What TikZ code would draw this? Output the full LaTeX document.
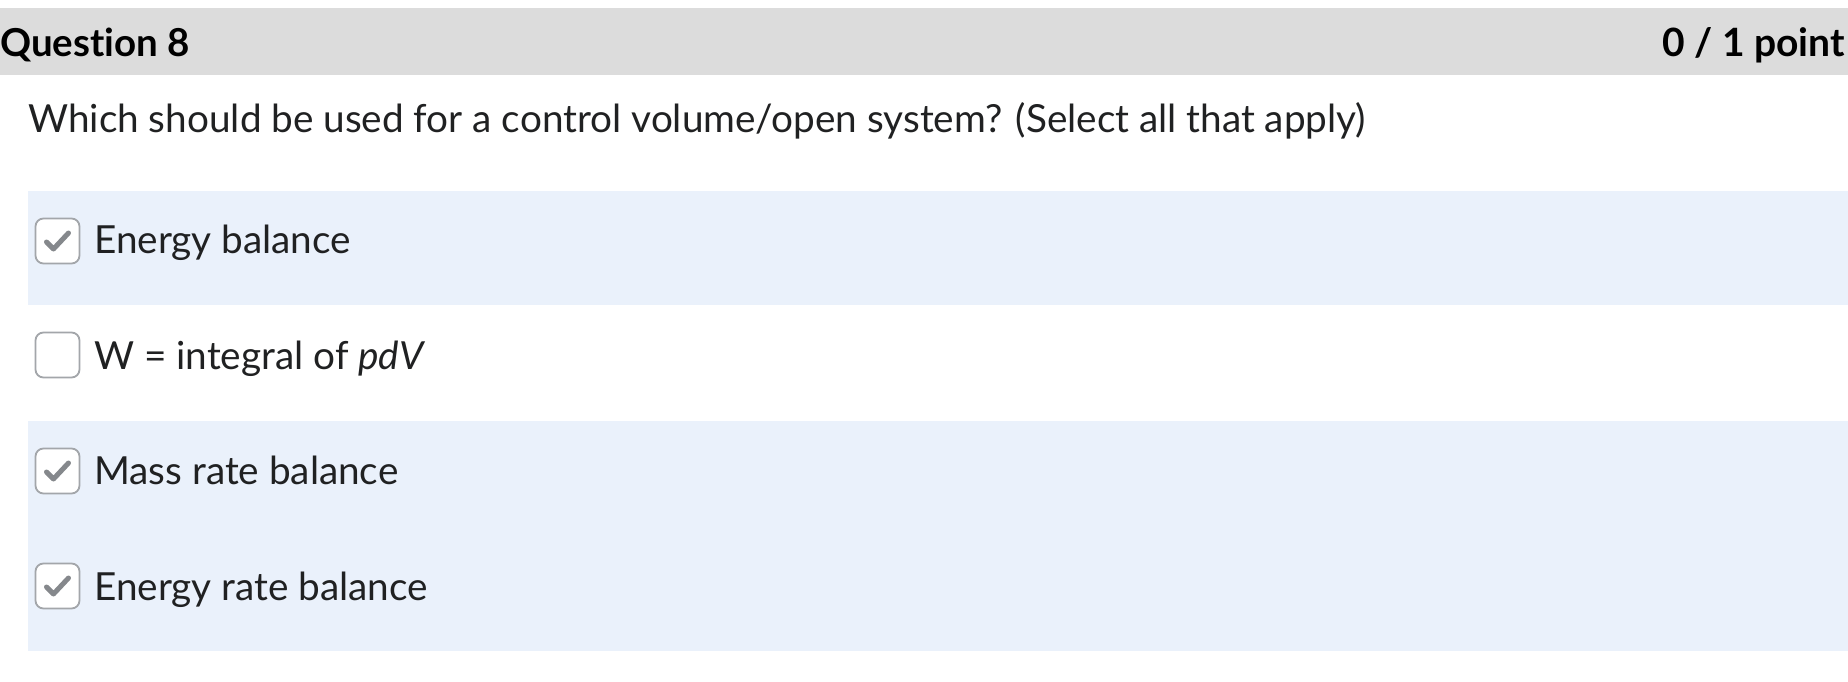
\documentclass[tikz,border=0pt]{standalone}
\usepackage{fontspec}
\setmainfont{Lato}[RawFeature={-liga;-dlig}]
\definecolor{hdr}{HTML}{DCDCDC}
\definecolor{band}{HTML}{EAF1FB}
\definecolor{txt}{HTML}{202122}
\definecolor{boxc}{HTML}{A3A6AA}
\definecolor{tick}{HTML}{85888C}
\tikzset{
  lbl/.style={anchor=base west,inner sep=0pt,text=txt,font=\fontsize{38.7}{42}\selectfont},
  cbox/.style={draw=boxc,line width=1.8pt,fill=white,rounded corners=8pt,minimum width=44pt,minimum height=45pt,inner sep=0pt},
  tk/.style={draw=tick,line width=5pt,line cap=round,line join=round}
}
\begin{document}
\begin{tikzpicture}[x=1pt,y=-1pt]
\useasboundingbox (0,0) rectangle (1848,682);
\fill[white] (0,0) rectangle (1848,682);
\fill[hdr] (0,8) rectangle (1848,75);
\node[lbl,font=\bfseries\fontsize{38.5}{42}\selectfont,text=black] (q) at (0,57) {Question 8};
\node[anchor=base east,inner sep=0pt,font=\bfseries\fontsize{39}{42}\selectfont] (pt) at (1845,57) {0 / 1 point};
\node[lbl] (qt) at (28,133) {Which should be used for a control volume/open system? (Select all that apply)};
\fill[band] (28,191) rectangle (1848,305);
\fill[band] (28,421) rectangle (1848,651);
\node[cbox] (b1) at (57.5,241) {};
\node[cbox] (b2) at (57.5,355) {};
\node[cbox] (b3) at (57.5,471) {};
\node[cbox] (b4) at (57.5,586) {};
\foreach \b in {b1,b3,b4}{
  \draw[tk] ([shift={(-11,1)}]\b.center) -- ([shift={(-4,8)}]\b.center) -- ([shift={(11,-8)}]\b.center);
}
\node[lbl] (t1) at (94,253) {Energy balance};
\node[lbl] (t2) at (94,369) {W = integral of \textit{pdV}};
\node[lbl] (t3) at (94,484) {Mass rate balance};
\node[lbl] (t4) at (94,600) {Energy rate balance};
\end{tikzpicture}
\end{document}
